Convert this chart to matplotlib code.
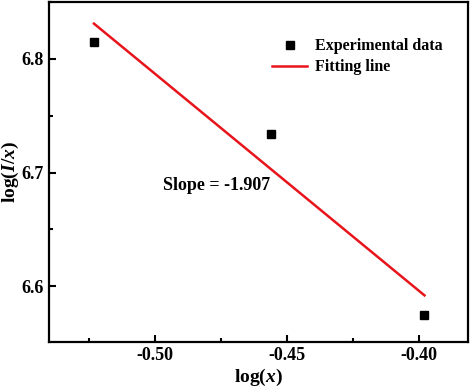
import numpy as np
import matplotlib.pyplot as plt
from matplotlib.ticker import MultipleLocator

plt.rcParams['font.family'] = 'Liberation Serif'
plt.rcParams['font.weight'] = 'bold'
plt.rcParams['mathtext.fontset'] = 'custom'
plt.rcParams['mathtext.rm'] = 'Liberation Serif:bold'
plt.rcParams['mathtext.it'] = 'Liberation Serif:bold:italic'

# data
log_x = [-0.523, -0.456, -0.398]
log_Ix = [6.815, 6.734, 6.575]
fit_x = [-0.523, -0.398]
fit_y = [6.831, 6.592]
slope_text = 'Slope = -1.907'

fig = plt.figure(figsize=(4.74, 3.87), dpi=100)
ax = fig.add_axes([0.1034, 0.1163, 0.8836, 0.8785])

ax.plot(log_x, log_Ix, 's', color='black', markersize=6, label='Experimental data')
ax.plot(fit_x, fit_y, '-', color='#e8141c', linewidth=1.8, label='Fitting line')

ax.text(-0.497, 6.689, slope_text, fontsize=13, fontweight='bold', va='center', ha='left')

ax.set_xlim(-0.540, -0.3816)
ax.set_ylim(6.551, 6.850)
ax.xaxis.set_major_locator(MultipleLocator(0.05))
ax.xaxis.set_minor_locator(MultipleLocator(0.025))
ax.yaxis.set_major_locator(MultipleLocator(0.1))
ax.yaxis.set_minor_locator(MultipleLocator(0.05))
ax.xaxis.set_major_formatter(plt.FormatStrFormatter('%.2f'))
ax.yaxis.set_major_formatter(plt.FormatStrFormatter('%.1f'))

ax.tick_params(which='both', direction='in', width=1.5, labelsize=13)
ax.tick_params(which='major', length=5)
ax.tick_params(which='minor', length=3)
for s in ax.spines.values():
    s.set_linewidth(1.6)

ax.set_xlabel(r'log($x$)', fontsize=14, fontweight='bold', labelpad=2)
ax.set_ylabel(r'log($I$/$x$)', fontsize=14, fontweight='bold', va='center')
ax.yaxis.set_label_coords(-0.093, 0.5)

ax.legend(loc='upper right', bbox_to_anchor=(0.975, 0.935), frameon=False, fontsize=11.5,
          handlelength=2.2, handletextpad=0.5, labelspacing=0.3)

fig.savefig('out.png', dpi=100)
